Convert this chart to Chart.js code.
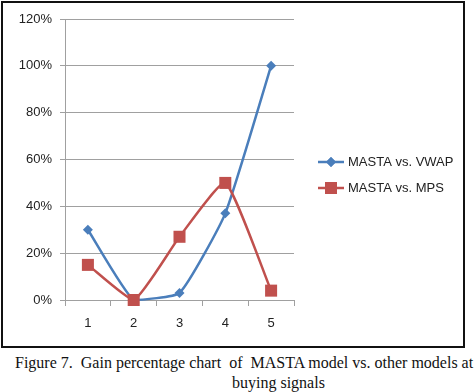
<!DOCTYPE html>
<html>
<head>
<meta charset="utf-8">
<script src="https://cdn.jsdelivr.net/npm/chart.js@4"></script>
<style>
  body { margin: 0; width: 474px; height: 392px; overflow: hidden; background: #fff; position: relative; }
  #box { position: absolute; left: 1px; top: 1px; width: 460px; height: 343px; border: 2px solid #111; }
  .cap { position: absolute; font-family: "Liberation Serif", serif; font-size: 16px; color: #111; white-space: nowrap; }
</style>
</head>
<body>
<div id="box"><canvas id="myChart" width="460" height="343"></canvas></div>
<div class="cap" style="left:15px; top:354px;">Figure 7.&nbsp; Gain percentage chart&nbsp; of&nbsp; MASTA model vs. other models at</div>
<div class="cap" style="left:232px; top:374px;">buying signals</div>
<script>
  const categories = ['1', '2', '3', '4', '5'];
  const vwapValues = [30, 0, 3, 37, 100];
  const mpsValues = [15, 0, 27, 50, 4];
  const seriesNames = ['MASTA vs. VWAP', 'MASTA vs. MPS'];
  const yTicks = [0, 20, 40, 60, 80, 100, 120];

  const blue = '#4a7ebb';
  const red = '#c0504d';
  const axisGray = '#a0a0a0';

  // legend drawn by hand: line with marker, like the excel one
  const sideLegend = {
    id: 'sideLegend',
    afterDraw(chart) {
      const ctx = chart.ctx;
      const items = [
        { name: seriesNames[0], color: blue, style: 'rectRot', r: 5, y: 159 },
        { name: seriesNames[1], color: red, style: 'rect', r: 8.5, y: 185 }
      ];
      ctx.save();
      items.forEach(it => {
        ctx.strokeStyle = it.color;
        ctx.lineWidth = 2.5;
        ctx.beginPath();
        ctx.moveTo(315, it.y);
        ctx.lineTo(341, it.y);
        ctx.stroke();
        ctx.fillStyle = it.color;
        Chart.helpers.drawPoint(ctx, { pointStyle: it.style, radius: it.r, borderWidth: 0 }, 328, it.y);
        ctx.fill();
        ctx.fillStyle = '#222';
        ctx.font = '13px "Liberation Sans", sans-serif';
        ctx.textBaseline = 'middle';
        ctx.fillText(it.name, 345, it.y);
      });
      ctx.restore();
    }
  };

  new Chart(document.getElementById('myChart'), {
    type: 'line',
    data: {
      labels: categories,
      datasets: [{
        label: seriesNames[0],
        data: vwapValues,
        borderColor: blue,
        backgroundColor: blue,
        borderWidth: 2.5,
        pointStyle: 'rectRot',
        pointRadius: 5,
        pointBorderWidth: 0,
        tension: 0.15,
        clip: false,
        order: 1
      }, {
        label: seriesNames[1],
        data: mpsValues,
        borderColor: red,
        backgroundColor: red,
        borderWidth: 2.5,
        pointStyle: 'rect',
        pointRadius: 8.5,
        pointBorderWidth: 0,
        tension: 0.15,
        clip: false,
        order: 0
      }]
    },
    options: {
      responsive: false,
      animation: false,
      layout: { padding: { left: 0, right: 169, top: 16, bottom: 0 } },
      plugins: { legend: { display: false }, tooltip: { enabled: false } },
      scales: {
        x: {
          offset: true,
          grid: { offset: true, drawOnChartArea: false, drawTicks: true, tickLength: 6, color: axisGray },
          border: { color: axisGray },
          ticks: { color: '#222', padding: 10, font: { family: 'Liberation Sans', size: 13 } },
          afterFit: s => { s.height = 46; }
        },
        y: {
          min: 0,
          max: 120,
          afterBuildTicks: s => { s.ticks = yTicks.map(v => ({ value: v })); },
          grid: { color: axisGray, tickLength: 5 },
          border: { color: axisGray },
          ticks: { color: '#222', padding: 8, font: { family: 'Liberation Sans', size: 13 }, callback: v => v + '%' },
          afterFit: s => { s.width = 62; }
        }
      }
    },
    plugins: [sideLegend]
  });
</script>
</body>
</html>
